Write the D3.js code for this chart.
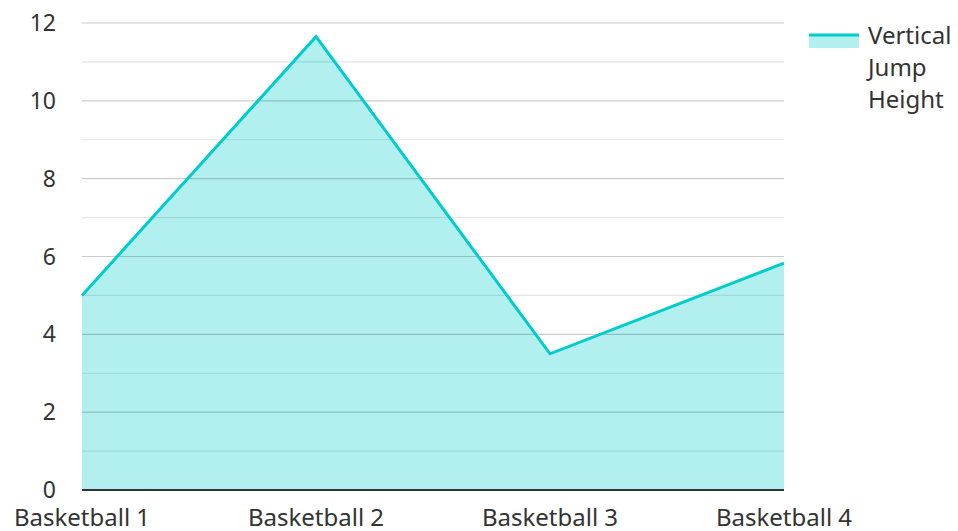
<!DOCTYPE html>
<html>
<head>
<meta charset="utf-8">
<script src="https://cdn.jsdelivr.net/npm/d3@7"></script>
<style>
  body { margin: 0; background: #fff; }
  text { font-family: "Noto Sans", sans-serif; fill: #333; }
</style>
</head>
<body>
<div id="chart"></div>
<script>
const categories = ["Basketball 1", "Basketball 2", "Basketball 3", "Basketball 4"];
const jumpHeight = [5, 11.65, 3.5, 5.83];
const seriesName = ["Vertical", "Jump", "Height"];
const yTicks = [0, 2, 4, 6, 8, 10, 12];
const yMinor = [1, 3, 5, 7, 9, 11];

const width = 958, height = 531;
const margin = { top: 23, right: 174, bottom: 41, left: 82 };

const svg = d3.select("#chart")
  .append("svg")
  .attr("width", width)
  .attr("height", height);

const x = d3.scalePoint()
  .domain(categories)
  .range([margin.left, width - margin.right]);

const y = d3.scaleLinear()
  .domain([0, 12])
  .range([height - margin.bottom, margin.top]);

const data = categories.map((c, i) => ({ c, v: jumpHeight[i] }));

// area + line
svg.append("path")
  .datum(data)
  .attr("fill", "#00cccc")
  .attr("fill-opacity", 0.3)
  .attr("d", d3.area().x(d => x(d.c)).y0(y(0)).y1(d => y(d.v)));

// gridlines (drawn over the fill, semi transparent)
svg.append("g")
  .selectAll("line.minor")
  .data(yMinor)
  .enter()
  .append("line")
  .attr("x1", margin.left)
  .attr("x2", width - margin.right)
  .attr("y1", d => y(d))
  .attr("y2", d => y(d))
  .attr("stroke", "#000")
  .attr("stroke-opacity", 0.1)
  .attr("stroke-width", 1.2);

svg.append("g")
  .selectAll("line.major")
  .data(yTicks.filter(d => d > 0))
  .enter()
  .append("line")
  .attr("x1", margin.left)
  .attr("x2", width - margin.right)
  .attr("y1", d => y(d))
  .attr("y2", d => y(d))
  .attr("stroke", "#000")
  .attr("stroke-opacity", 0.2)
  .attr("stroke-width", 1.2);

svg.append("path")
  .datum(data)
  .attr("fill", "none")
  .attr("stroke", "#00cccc")
  .attr("stroke-width", 3)
  .attr("stroke-linejoin", "miter")
  .attr("d", d3.line().x(d => x(d.c)).y(d => y(d.v)));

// baseline
svg.append("line")
  .attr("x1", margin.left)
  .attr("x2", width - margin.right)
  .attr("y1", y(0))
  .attr("y2", y(0))
  .attr("stroke", "#333")
  .attr("stroke-width", 2);

// y tick labels
svg.append("g")
  .selectAll("text")
  .data(yTicks)
  .enter()
  .append("text")
  .attr("x", 56)
  .attr("y", d => y(d))
  .attr("dy", "0.35em")
  .attr("text-anchor", "end")
  .style("font-size", "23px")
  .text(d => d);

// x labels
svg.append("g")
  .selectAll("text")
  .data(categories)
  .enter()
  .append("text")
  .attr("x", d => x(d))
  .attr("y", 526)
  .attr("text-anchor", "middle")
  .style("font-size", "24px")
  .text(d => d);

// legend
const lg = svg.append("g");
lg.append("rect")
  .attr("x", 809)
  .attr("y", 34)
  .attr("width", 50)
  .attr("height", 14)
  .attr("fill", "#00cccc")
  .attr("fill-opacity", 0.3);
lg.append("line")
  .attr("x1", 809)
  .attr("x2", 859)
  .attr("y1", 35)
  .attr("y2", 35)
  .attr("stroke", "#00cccc")
  .attr("stroke-width", 3);
lg.selectAll("text")
  .data(seriesName)
  .enter()
  .append("text")
  .attr("x", 868)
  .attr("y", (d, i) => 36 + i * 32)
  .attr("dy", "0.35em")
  .style("font-size", "24px")
  .text(d => d);
</script>
</body>
</html>
